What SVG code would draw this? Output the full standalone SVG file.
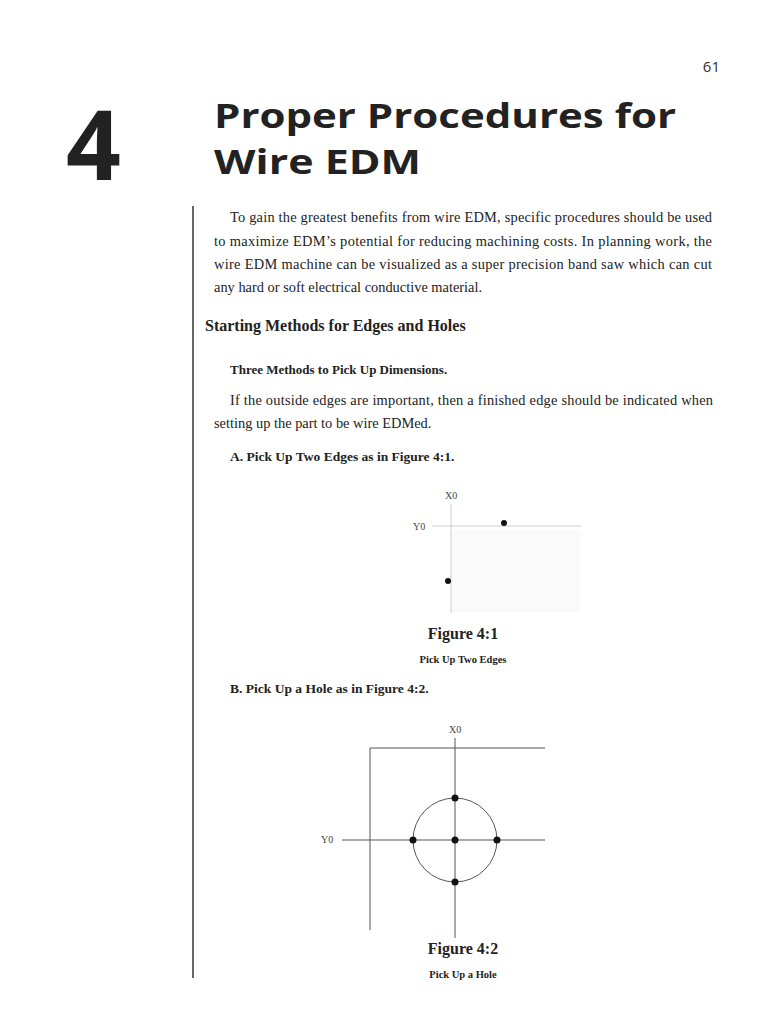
<svg xmlns="http://www.w3.org/2000/svg" width="768" height="1024" viewBox="0 0 768 1024">
<style>
.b{font-family:"Liberation Serif",serif;font-size:14.4px;fill:#222}
.h{font-family:"Liberation Serif",serif;font-weight:bold;fill:#222}
.s{font-family:"Liberation Serif",serif;font-size:10px;fill:#444}
.t{font-family:"Open Sans","Noto Sans",sans-serif;font-weight:bold;fill:#222}
</style>
<rect width="768" height="1024" fill="#fff"/>
<text x="720" y="72" text-anchor="end" font-family="Open Sans,sans-serif" font-size="15" fill="#333">61</text>
<text x="66" y="180" class="t" font-size="96">4</text>
<text x="214" y="128" class="t" font-size="34" textLength="462" lengthAdjust="spacingAndGlyphs">Proper Procedures for</text>
<text x="214" y="174" class="t" font-size="34" textLength="207" lengthAdjust="spacingAndGlyphs">Wire EDM</text>
<line x1="193" y1="206" x2="193" y2="978" stroke="#333" stroke-width="1.5"/>
<text x="230" y="222" class="b" textLength="482">To gain the greatest benefits from wire EDM, specific procedures should be used</text>
<text x="214" y="246" class="b" textLength="498">to maximize EDM’s potential for reducing machining costs. In planning work, the</text>
<text x="214" y="269" class="b" textLength="498">wire EDM machine can be visualized as a super precision band saw which can cut</text>
<text x="214" y="292" class="b">any hard or soft electrical conductive material.</text>
<text x="205" y="331" class="h" font-size="16">Starting Methods for Edges and Holes</text>
<text x="230" y="374" class="h" font-size="13">Three Methods to Pick Up Dimensions.</text>
<text x="230" y="405" class="b" textLength="483">If the outside edges are important, then a finished edge should be indicated when</text>
<text x="214" y="428" class="b">setting up the part to be wire EDMed.</text>
<text x="230" y="461" class="h" font-size="13.5">A. Pick Up Two Edges as in Figure 4:1.</text>
<g id="fig1">
<rect x="452" y="530" width="128" height="82" fill="#fafafa"/>
<line x1="451" y1="504" x2="451" y2="613" stroke="#ccc"/>
<line x1="432" y1="526" x2="581" y2="526" stroke="#ccc"/>
<text x="445" y="499" class="s">X0</text>
<text x="413" y="530" class="s">Y0</text>
<circle cx="504" cy="523" r="3" fill="#111"/>
<circle cx="448" cy="581" r="3" fill="#111"/>
</g>
<text x="463" y="639" text-anchor="middle" class="h" font-size="16">Figure 4:1</text>
<text x="463" y="663" text-anchor="middle" class="h" font-size="10.5">Pick Up Two Edges</text>
<text x="230" y="693" class="h" font-size="13.5">B. Pick Up a Hole as in Figure 4:2.</text>
<g id="fig2" stroke="#555" fill="none">
<polyline points="545,748 370,748 370,930"/>
<line x1="455" y1="738" x2="455" y2="938"/>
<line x1="342" y1="840" x2="545" y2="840"/>
<circle cx="455" cy="840" r="42"/>
<g fill="#111" stroke="none">
<circle cx="455" cy="798" r="3.5"/><circle cx="455" cy="840" r="3.5"/><circle cx="455" cy="882" r="3.5"/>
<circle cx="413" cy="840" r="3.5"/><circle cx="497" cy="840" r="3.5"/>
</g>
</g>
<text x="449" y="733" class="s">X0</text>
<text x="321" y="843" class="s">Y0</text>
<text x="463" y="954" text-anchor="middle" class="h" font-size="16">Figure 4:2</text>
<text x="463" y="978" text-anchor="middle" class="h" font-size="10.5">Pick Up a Hole</text>
</svg>
